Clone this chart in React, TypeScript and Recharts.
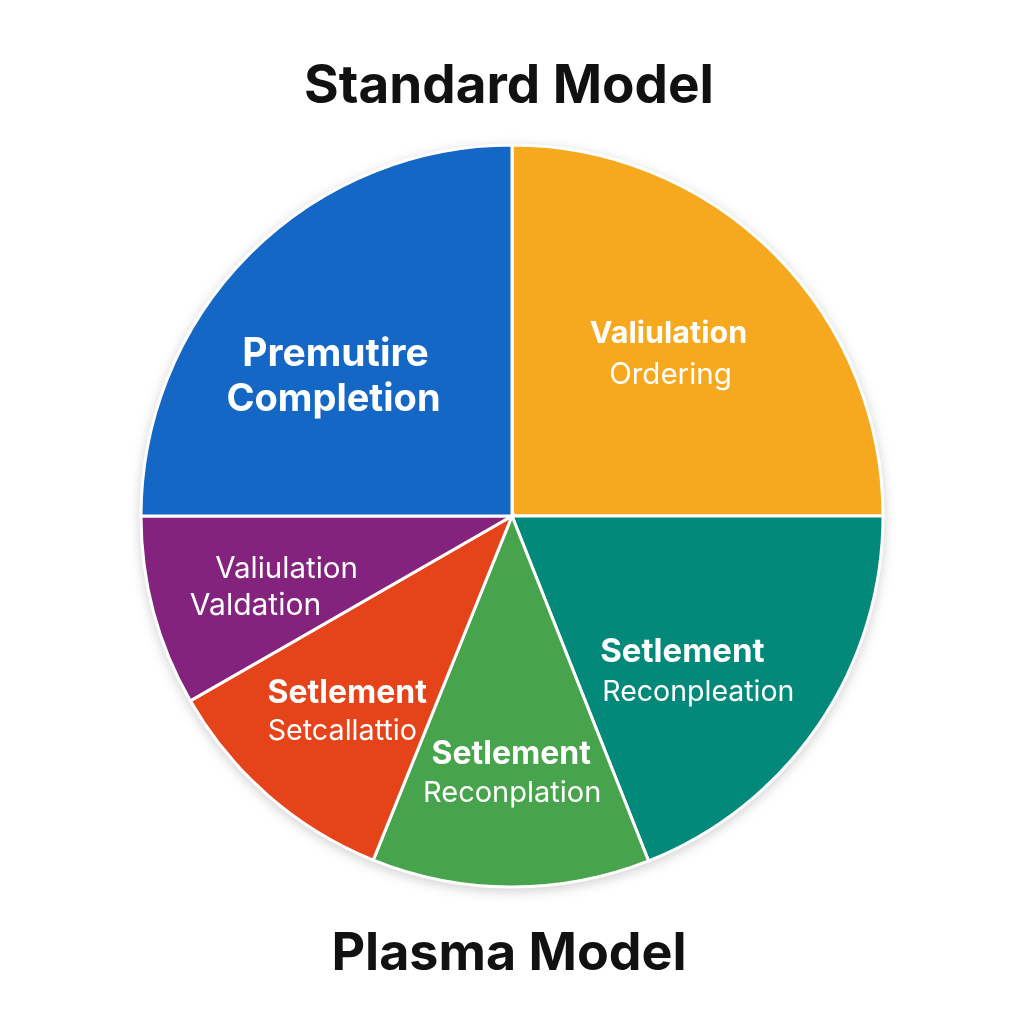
import { Cell, Pie, PieChart } from 'recharts';

// slices clockwise from 12 o'clock
const topLines = ['Valiulation', 'Setlement', 'Setlement', 'Setlement', 'Valiulation', 'Premutire'];
const bottomLines = ['Ordering', 'Reconpleation', 'Reconplation', 'Setcallattio', 'Valdation', 'Completion'];
const shares = [25, 19, 12.1, 10.6, 8.3, 25];
const colors = ['#F6A81E', '#03897A', '#47A34C', '#E5431A', '#83237E', '#1467C4'];

const data = shares.map((value, i) => ({
  name: `${topLines[i]} ${bottomLines[i]}`,
  top: topLines[i],
  bottom: bottomLines[i],
  value,
}));

// label layout per slice: radius, nudge, line gap, per-line x shift, fonts
const labelLayout = [
  { r: 227, dx: -3, dy: -3, gap: 42, x1: -1, x2: 1, s1: 30.5, s2: 29.5, b1: true, b2: false },
  { r: 235, dx: -16, dy: 22, gap: 40, x1: -8, x2: 8, s1: 33, s2: 28.5, b1: true, b2: false },
  { r: 256, dx: 0, dy: 0, gap: 39, x1: 0, x2: 1, s1: 32, s2: 29, b1: true, b2: false },
  { r: 257, dx: 2, dy: 1, gap: 38, x1: 2, x2: -3, s1: 32, s2: 28.7, b1: true, b2: false },
  { r: 252, dx: 2, dy: 5, gap: 37, x1: 16, x2: -15, s1: 29.5, s2: 30, b1: false, b2: false },
  { r: 227, dx: -17, dy: 19, gap: 45, x1: 1, x2: -1, s1: 39, s2: 38, b1: true, b2: true },
];

const RAD = Math.PI / 180;
const FONT = 'Inter, "Noto Sans", sans-serif';

function renderLabel(props: any) {
  const { cx, cy, midAngle, index } = props;
  const l = labelLayout[index];
  const d = data[index];
  const x = cx + l.r * Math.cos(-midAngle * RAD) + l.dx;
  const y = cy + l.r * Math.sin(-midAngle * RAD) + l.dy;
  return (
    <g>
      <text
        x={x + l.x1}
        y={y - l.gap / 2}
        fill="#fff"
        textAnchor="middle"
        dominantBaseline="central"
        fontFamily={FONT}
        fontSize={l.s1}
        fontWeight={l.b1 ? 700 : 400}
      >
        {d.top}
      </text>
      <text
        x={x + l.x2}
        y={y + l.gap / 2}
        fill="#fff"
        textAnchor="middle"
        dominantBaseline="central"
        fontFamily={FONT}
        fontSize={l.s2}
        fontWeight={l.b2 ? 700 : 400}
      >
        {d.bottom}
      </text>
    </g>
  );
}

const titleStyle: React.CSSProperties = {
  position: 'absolute',
  left: 0,
  width: 1018,
  textAlign: 'center',
  fontFamily: FONT,
  fontWeight: 700,
  lineHeight: '64px',
  color: '#111',
};

export default function App() {
  return (
    <div style={{ position: 'absolute', left: 0, top: 0, width: 1024, height: 1024, background: '#fff' }}>
      <div style={{ ...titleStyle, top: 52, fontSize: 53 }}>Standard Model</div>
      <div style={{ position: 'absolute', left: 0, top: 0, filter: 'drop-shadow(0 3px 6px rgba(0,0,0,0.18))' }}>
        <PieChart width={1024} height={1024} margin={{ top: 0, right: 0, bottom: 0, left: 0 }}>
          <Pie
            data={data}
            dataKey="value"
            nameKey="name"
            cx={512}
            cy={516}
            outerRadius={371}
            startAngle={90}
            endAngle={-270}
            stroke="#fff"
            strokeWidth={3}
            label={renderLabel}
            labelLine={false}
            isAnimationActive={false}
          >
            {data.map((d, i) => (
              <Cell key={d.name + i} fill={colors[i]} />
            ))}
          </Pie>
        </PieChart>
      </div>
      <div style={{ ...titleStyle, top: 920, fontSize: 52 }}>Plasma Model</div>
    </div>
  );
}
